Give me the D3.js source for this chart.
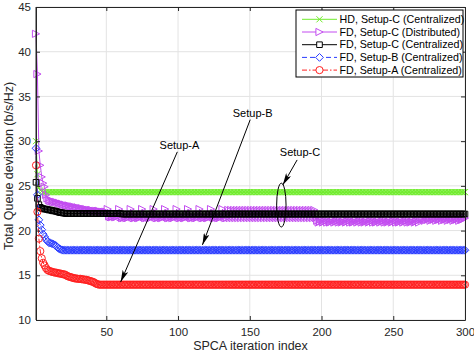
<!DOCTYPE html>
<html><head><meta charset="utf-8">
<script src="https://cdn.jsdelivr.net/npm/d3@7"></script>
<style>body{margin:0;background:#fff}svg{display:block;font-family:"Liberation Sans",Arial,Helvetica,sans-serif}</style>
</head><body><svg id="c" width="474" height="355"></svg>
<script>
const xTicks = [50,100,150,200,250,300];
const yTicks = [10,15,20,25,30,35,40,45];
const seriesNames = ["HD, Setup-C (Centralized)","FD, Setup-C (Distributed)","FD, Setup-C (Centralized)","FD, Setup-B (Centralized)","FD, Setup-A (Centralized)"];
const iterations = d3.range(1,301);

const hdC = [
30.0,26.3,24.8,24.5,24.4,24.3,24.3,24.3,24.3,24.3,
24.3,24.3,24.3,24.3,24.3,24.3,24.3,24.3,24.3,24.3,
24.3,24.3,24.3,24.3,24.3,24.3,24.3,24.3,24.3,24.3,
24.3,24.3,24.3,24.3,24.3,24.3,24.3,24.3,24.3,24.3,
24.3,24.3,24.3,24.3,24.3,24.3,24.3,24.3,24.3,24.3,
24.3,24.3,24.3,24.3,24.3,24.3,24.3,24.3,24.3,24.3,
24.3,24.3,24.3,24.3,24.3,24.3,24.3,24.3,24.3,24.3,
24.3,24.3,24.3,24.3,24.3,24.3,24.3,24.3,24.3,24.3,
24.3,24.3,24.3,24.3,24.3,24.3,24.3,24.3,24.3,24.3,
24.3,24.3,24.3,24.3,24.3,24.3,24.3,24.3,24.3,24.3,
24.3,24.3,24.3,24.3,24.3,24.3,24.3,24.3,24.3,24.3,
24.3,24.3,24.3,24.3,24.3,24.3,24.3,24.3,24.3,24.3,
24.3,24.3,24.3,24.3,24.3,24.3,24.3,24.3,24.3,24.3,
24.3,24.3,24.3,24.3,24.3,24.3,24.3,24.3,24.3,24.3,
24.3,24.3,24.3,24.3,24.3,24.3,24.3,24.3,24.3,24.3,
24.3,24.3,24.3,24.3,24.3,24.3,24.3,24.3,24.3,24.3,
24.3,24.3,24.3,24.3,24.3,24.3,24.3,24.3,24.3,24.3,
24.3,24.3,24.3,24.3,24.3,24.3,24.3,24.3,24.3,24.3,
24.3,24.3,24.3,24.3,24.3,24.3,24.3,24.3,24.3,24.3,
24.3,24.3,24.3,24.3,24.3,24.3,24.3,24.3,24.3,24.3,
24.3,24.3,24.3,24.3,24.3,24.3,24.3,24.3,24.3,24.3,
24.3,24.3,24.3,24.3,24.3,24.3,24.3,24.3,24.3,24.3,
24.3,24.3,24.3,24.3,24.3,24.3,24.3,24.3,24.3,24.3,
24.3,24.3,24.3,24.3,24.3,24.3,24.3,24.3,24.3,24.3,
24.3,24.3,24.3,24.3,24.3,24.3,24.3,24.3,24.3,24.3,
24.3,24.3,24.3,24.3,24.3,24.3,24.3,24.3,24.3,24.3,
24.3,24.3,24.3,24.3,24.3,24.3,24.3,24.3,24.3,24.3,
24.3,24.3,24.3,24.3,24.3,24.3,24.3,24.3,24.3,24.3,
24.3,24.3,24.3,24.3,24.3,24.3,24.3,24.3,24.3,24.3,
24.3,24.3,24.3,24.3,24.3,24.3,24.3,24.3,24.3,24.3];

const fdCDist = [
42.0,37.5,28.9,27.3,26.0,25.3,24.9,24.0,23.6,23.4,
23.3,23.3,23.2,23.2,23.2,23.1,23.1,23.0,23.0,22.9,
22.9,22.8,22.8,22.8,22.7,22.7,22.7,22.6,22.6,22.6,
22.5,22.5,22.5,22.4,22.4,22.4,22.3,22.3,22.3,22.3,
22.2,22.2,22.2,22.2,22.2,22.1,22.1,22.1,22.1,22.1,
22.4,21.6,21.5,21.5,21.6,21.5,21.5,21.6,
22.4,21.5,21.4,21.4,21.5,21.4,21.4,21.5,
22.4,21.5,21.4,21.4,21.5,21.4,21.4,21.5,
22.4,21.5,21.4,21.4,21.5,21.4,21.4,21.5,
22.4,21.5,21.4,21.4,21.5,21.4,21.4,21.5,
22.4,21.5,21.4,21.4,21.5,21.4,21.4,21.5,
22.4,21.5,21.4,21.4,21.5,21.4,21.4,21.5,
22.4,21.5,21.4,21.4,21.5,21.4,21.4,21.5,
22.4,21.5,21.4,21.4,21.5,21.4,21.4,21.5,
22.4,21.5,21.4,21.4,21.5,21.4,21.4,21.5,
22.4,21.5,21.4,21.4,
22.3,21.4,22.3,21.4,22.3,21.4,22.3,21.4,22.3,21.4,
22.3,21.4,22.3,21.4,22.3,21.4,22.3,21.4,22.3,21.4,
22.3,21.4,22.3,21.4,22.3,21.4,22.3,21.4,22.3,21.4,
22.3,21.4,22.3,21.4,22.3,21.4,22.3,21.4,22.3,21.4,
22.3,21.4,22.3,21.4,22.3,21.4,22.3,21.4,22.3,21.4,
22.3,21.4,22.3,21.4,22.3,21.4,22.3,21.4,22.3,21.4,
22.3,21.4,
21.1,20.9,21.0,21.2,20.9,21.0,21.1,20.9,
21.1,20.9,21.0,21.2,20.9,21.0,21.1,20.9,
21.1,20.9,21.0,21.2,20.9,21.0,21.1,20.9,
21.1,20.9,21.0,21.2,20.9,21.0,21.1,20.9,
21.1,20.9,21.0,21.2,20.9,21.0,21.1,20.9,
21.1,20.9,21.0,21.2,20.9,21.0,21.1,20.9,
21.1,20.9,21.0,21.2,20.9,21.0,21.1,20.9,
21.1,20.9,21.0,21.2,20.9,21.0,21.1,20.9,
21.1,20.9,21.0,21.2,20.9,21.0,21.1,20.9,
21.3,21.2,21.3,21.1,21.3,21.2,21.3,21.1,
21.3,21.2,21.3,21.1,21.3,21.2,21.3,21.1,
21.3,21.2,21.3,21.1,21.3,21.2,21.3,21.1,
21.3,21.2,21.3,21.1,21.3,21.2,21.3,21.4];

const fdCCent = [
25.4,23.6,22.9,22.6,22.5,22.45,22.4,22.4,22.35,22.3,
22.3,22.25,22.2,22.2,22.15,22.1,22.05,22.0,22.0,21.95,
21.95,21.9,21.9,21.9,21.9,21.9,21.9,21.9,21.9,21.9,
21.9,21.9,21.9,21.9,21.9,21.9,21.9,21.9,21.9,21.9,
21.9,21.9,21.9,21.9,21.9,21.9,21.9,21.9,21.9,21.9,
21.9,21.9,21.9,21.9,21.9,21.9,21.9,21.9,21.9,21.9,
21.85,21.85,21.85,21.85,21.85,21.85,21.85,21.85,21.85,21.85,
21.85,21.85,21.85,21.85,21.85,21.85,21.85,21.85,21.85,21.85,
21.85,21.85,21.85,21.85,21.85,21.85,21.85,21.85,21.85,21.85,
21.85,21.85,21.85,21.85,21.85,21.85,21.85,21.85,21.85,21.85,
21.85,21.85,21.85,21.85,21.85,21.85,21.85,21.85,21.85,21.85,
21.85,21.85,21.85,21.85,21.85,21.85,21.85,21.85,21.85,21.85,
21.85,21.85,21.85,21.85,21.85,21.85,21.85,21.85,21.85,21.85,
21.85,21.85,21.85,21.85,21.85,21.85,21.85,21.85,21.85,21.85,
21.85,21.85,21.85,21.85,21.85,21.85,21.85,21.85,21.85,21.85,
21.85,21.85,21.85,21.85,21.85,21.85,21.85,21.85,21.85,21.85,
21.85,21.85,21.85,21.85,21.85,21.85,21.85,21.85,21.85,21.85,
21.85,21.85,21.85,21.85,21.85,21.85,21.85,21.85,21.85,21.85,
21.85,21.85,21.85,21.85,21.85,21.85,21.85,21.85,21.85,21.85,
21.85,21.85,21.85,21.85,21.85,21.85,21.85,21.85,21.85,21.85,
21.85,21.85,21.85,21.85,21.85,21.85,21.85,21.85,21.85,21.85,
21.85,21.85,21.85,21.85,21.85,21.85,21.85,21.85,21.85,21.85,
21.85,21.85,21.85,21.85,21.85,21.85,21.85,21.85,21.85,21.85,
21.85,21.85,21.85,21.85,21.85,21.85,21.85,21.85,21.85,21.85,
21.85,21.85,21.85,21.85,21.85,21.85,21.85,21.85,21.85,21.85,
21.85,21.85,21.85,21.85,21.85,21.85,21.85,21.85,21.85,21.85,
21.85,21.85,21.85,21.85,21.85,21.85,21.85,21.85,21.85,21.85,
21.85,21.85,21.85,21.85,21.85,21.85,21.85,21.85,21.85,21.85,
21.85,21.85,21.85,21.85,21.85,21.85,21.85,21.85,21.85,21.85,
21.85,21.85,21.85,21.85,21.85,21.85,21.85,21.85,21.85,21.85];

const fdB = [
29.2,24.0,21.2,20.6,20.1,19.6,19.3,19.0,18.8,18.65,
18.6,18.55,18.5,18.4,18.3,18.1,18.0,17.9,17.85,17.8,
17.8,17.8,17.8,17.8,17.8,17.8,17.8,17.8,17.8,17.8,
17.8,17.8,17.8,17.8,17.8,17.8,17.8,17.8,17.8,17.8,
17.8,17.8,17.8,17.8,17.8,17.8,17.8,17.8,17.8,17.8,
17.8,17.8,17.8,17.8,17.8,17.8,17.8,17.8,17.8,17.8,
17.8,17.8,17.8,17.8,17.8,17.8,17.8,17.8,17.8,17.8,
17.8,17.8,17.8,17.8,17.8,17.8,17.8,17.8,17.8,17.8,
17.8,17.8,17.8,17.8,17.8,17.8,17.8,17.8,17.8,17.8,
17.8,17.8,17.8,17.8,17.8,17.8,17.8,17.8,17.8,17.8,
17.8,17.8,17.8,17.8,17.8,17.8,17.8,17.8,17.8,17.8,
17.8,17.8,17.8,17.8,17.8,17.8,17.8,17.8,17.8,17.8,
17.8,17.8,17.8,17.8,17.8,17.8,17.8,17.8,17.8,17.8,
17.8,17.8,17.8,17.8,17.8,17.8,17.8,17.8,17.8,17.8,
17.8,17.8,17.8,17.8,17.8,17.8,17.8,17.8,17.8,17.8,
17.8,17.8,17.8,17.8,17.8,17.8,17.8,17.8,17.8,17.8,
17.8,17.8,17.8,17.8,17.8,17.8,17.8,17.8,17.8,17.8,
17.8,17.8,17.8,17.8,17.8,17.8,17.8,17.8,17.8,17.8,
17.8,17.8,17.8,17.8,17.8,17.8,17.8,17.8,17.8,17.8,
17.8,17.8,17.8,17.8,17.8,17.8,17.8,17.8,17.8,17.8,
17.8,17.8,17.8,17.8,17.8,17.8,17.8,17.8,17.8,17.8,
17.8,17.8,17.8,17.8,17.8,17.8,17.8,17.8,17.8,17.8,
17.8,17.8,17.8,17.8,17.8,17.8,17.8,17.8,17.8,17.8,
17.8,17.8,17.8,17.8,17.8,17.8,17.8,17.8,17.8,17.8,
17.8,17.8,17.8,17.8,17.8,17.8,17.8,17.8,17.8,17.8,
17.8,17.8,17.8,17.8,17.8,17.8,17.8,17.8,17.8,17.8,
17.8,17.8,17.8,17.8,17.8,17.8,17.8,17.8,17.8,17.8,
17.8,17.8,17.8,17.8,17.8,17.8,17.8,17.8,17.8,17.8,
17.8,17.8,17.8,17.8,17.8,17.8,17.8,17.8,17.8,17.8,
17.8,17.8,17.8,17.8,17.8,17.8,17.8,17.8,17.8,17.8];

const fdA = [
27.3,22.1,19.1,17.7,16.9,16.4,16.1,15.8,15.6,15.5,
15.45,15.4,15.35,15.3,15.3,15.25,15.2,15.2,15.15,15.1,
15.1,15.0,14.9,14.85,14.8,14.75,14.7,14.65,14.65,14.6,
14.6,14.6,14.55,14.55,14.5,14.5,14.45,14.4,14.35,14.3,
14.25,14.15,14.05,14.0,13.95,13.95,13.95,13.95,13.95,13.95,
13.95,13.95,13.95,13.95,13.95,13.95,13.95,13.95,13.95,13.95,
13.95,13.95,13.95,13.95,13.95,13.95,13.95,13.95,13.95,13.95,
13.95,13.95,13.95,13.95,13.95,13.95,13.95,13.95,13.95,13.95,
13.95,13.95,13.95,13.95,13.95,13.95,13.95,13.95,13.95,13.95,
13.95,13.95,13.95,13.95,13.95,13.95,13.95,13.95,13.95,13.95,
13.95,13.95,13.95,13.95,13.95,13.95,13.95,13.95,13.95,13.95,
13.95,13.95,13.95,13.95,13.95,13.95,13.95,13.95,13.95,13.95,
13.95,13.95,13.95,13.95,13.95,13.95,13.95,13.95,13.95,13.95,
13.95,13.95,13.95,13.95,13.95,13.95,13.95,13.95,13.95,13.95,
13.95,13.95,13.95,13.95,13.95,13.95,13.95,13.95,13.95,13.95,
13.95,13.95,13.95,13.95,13.95,13.95,13.95,13.95,13.95,13.95,
13.95,13.95,13.95,13.95,13.95,13.95,13.95,13.95,13.95,13.95,
13.95,13.95,13.95,13.95,13.95,13.95,13.95,13.95,13.95,13.95,
13.95,13.95,13.95,13.95,13.95,13.95,13.95,13.95,13.95,13.95,
13.95,13.95,13.95,13.95,13.95,13.95,13.95,13.95,13.95,13.95,
13.95,13.95,13.95,13.95,13.95,13.95,13.95,13.95,13.95,13.95,
13.95,13.95,13.95,13.95,13.95,13.95,13.95,13.95,13.95,13.95,
13.95,13.95,13.95,13.95,13.95,13.95,13.95,13.95,13.95,13.95,
13.95,13.95,13.95,13.95,13.95,13.95,13.95,13.95,13.95,13.95,
13.95,13.95,13.95,13.95,13.95,13.95,13.95,13.95,13.95,13.95,
13.95,13.95,13.95,13.95,13.95,13.95,13.95,13.95,13.95,13.95,
13.95,13.95,13.95,13.95,13.95,13.95,13.95,13.95,13.95,13.95,
13.95,13.95,13.95,13.95,13.95,13.95,13.95,13.95,13.95,13.95,
13.95,13.95,13.95,13.95,13.95,13.95,13.95,13.95,13.95,13.95,
13.95,13.95,13.95,13.95,13.95,13.95,13.95,13.95,13.95,13.95];

// annotations in data coordinates
const annotations = [
  {label:"Setup-A", tx:101, ty:29.6, x1:99.5, y1:28.8, x2:60, y2:14.25},
  {label:"Setup-B", tx:152, ty:33.15, x1:150.3, y1:32.4, x2:117, y2:18.4},
  {label:"Setup-C", tx:185, ty:28.8, x1:183, y1:27.9, x2:173, y2:25.1}
];
const ellipseC = {x:172, y:22.85, ryVal:2.45};

const svg = d3.select("#c");
const x = d3.scaleLinear().domain([1,300]).range([36,465]);
const y = d3.scaleLinear().domain([10,45]).range([320,7]);
const L=36,R=465,T=7,B=320;
const axisColor="#262626";

svg.append("rect").attr("width",474).attr("height",355).attr("fill","#fff");

// grid
const grid = svg.append("g").attr("stroke","#e3e3e3").attr("stroke-width",1);
grid.selectAll(".gx").data(xTicks).join("line").attr("x1",d=>x(d)).attr("x2",d=>x(d)).attr("y1",T).attr("y2",B);
grid.selectAll(".gy").data(yTicks).join("line").attr("y1",d=>y(d)).attr("y2",d=>y(d)).attr("x1",L).attr("x2",R);

// series
const r=3.6;
const markers = {
  x: `M${-r*0.85},${-r*0.85}L${r*0.85},${r*0.85}M${-r*0.85},${r*0.85}L${r*0.85},${-r*0.85}`,
  tri: `M${-r},${-r}L${r},0L${-r},${r}Z`,
  sq: `M-2.8,-2.8H2.8V2.8H-2.8Z`,
  dia: `M0,${-r-0.3}L${r+0.3},0L0,${r+0.3}L${-r-0.3},0Z`,
  circ: `M${r},0A${r},${r} 0 1,1 ${-r},0A${r},${r} 0 1,1 ${r},0Z`
};
const series = [
  {name:seriesNames[0], values:hdC, color:"#70ec2c", dash:null, mk:"x"},
  {name:seriesNames[1], values:fdCDist, color:"#c34df0", dash:null, mk:"tri"},
  {name:seriesNames[2], values:fdCCent, color:"#000000", dash:null, mk:"sq"},
  {name:seriesNames[3], values:fdB, color:"#2a3cff", dash:"5,3", mk:"dia"},
  {name:seriesNames[4], values:fdA, color:"#ff2020", dash:"5,2,1.5,2", mk:"circ"}
];
const line = d3.line().x((d,i)=>x(iterations[i])).y(d=>y(d));
series.forEach(s=>{
  const g = svg.append("g");
  g.append("path").attr("d",line(s.values)).attr("fill","none").attr("stroke",s.color).attr("stroke-width",1).attr("stroke-dasharray",s.dash);
  g.selectAll("path.m").data(s.values).join("path").attr("class","m")
    .attr("d",markers[s.mk]).attr("transform",(d,i)=>`translate(${x(iterations[i])},${y(d)})`)
    .attr("fill","none").attr("stroke",s.color).attr("stroke-width",1);
});

// axes
const fontTick = 11.5;
const ax = svg.append("g").attr("transform",`translate(0,${B})`)
  .call(d3.axisBottom(x).tickValues(xTicks).tickSizeInner(-4).tickSizeOuter(0).tickPadding(8));
const ay = svg.append("g").attr("transform",`translate(${L},0)`)
  .call(d3.axisLeft(y).tickValues(yTicks).tickSizeInner(-4).tickSizeOuter(0).tickPadding(5));
const axT = svg.append("g").attr("transform",`translate(0,${T})`)
  .call(d3.axisTop(x).tickValues(xTicks).tickSizeInner(-4).tickSizeOuter(0).tickFormat(""));
const ayR = svg.append("g").attr("transform",`translate(${R},0)`)
  .call(d3.axisRight(y).tickValues(yTicks).tickSizeInner(-4).tickSizeOuter(0).tickFormat(""));
[ax,ay,axT,ayR].forEach(a=>{
  a.selectAll("path,line").attr("stroke",axisColor).attr("stroke-width",1);
  a.selectAll("text").attr("fill",axisColor).style("font-size",fontTick+"px").style("font-family","'Liberation Sans',Arial,sans-serif");
});
svg.append("line").attr("x1",L).attr("x2",L).attr("y1",T).attr("y2",B).attr("stroke",axisColor);

// axis labels
svg.append("text").attr("x",(L+R)/2).attr("y",350).attr("text-anchor","middle")
  .style("font-size","12.5px").attr("fill",axisColor).text("SPCA iteration index");
svg.append("text").attr("transform",`translate(13,166) rotate(-90)`).attr("text-anchor","middle")
  .style("font-size","12.5px").attr("fill",axisColor).text("Total Queue deviation (b/s/Hz)");

// annotations
const defs = svg.append("defs");
defs.append("marker").attr("id","arr").attr("viewBox","0 0 12 6").attr("refX",12).attr("refY",3)
  .attr("markerWidth",12).attr("markerHeight",6).attr("markerUnits","userSpaceOnUse").attr("orient","auto")
  .append("path").attr("d","M0,0L12,3L0,6L3,3Z").attr("fill","#000");
annotations.forEach(a=>{
  svg.append("line").attr("x1",x(a.x1)).attr("y1",y(a.y1)).attr("x2",x(a.x2)).attr("y2",y(a.y2))
    .attr("stroke","#000").attr("stroke-width",1).attr("marker-end","url(#arr)");
  svg.append("text").attr("x",x(a.tx)).attr("y",y(a.ty)).attr("dy","0.35em").attr("text-anchor","middle")
    .style("font-size","11px").attr("fill","#000").text(a.label);
});
svg.append("ellipse").attr("cx",x(ellipseC.x)).attr("cy",y(ellipseC.y)).attr("rx",4.7)
  .attr("ry",y(ellipseC.y-ellipseC.ryVal)-y(ellipseC.y)).attr("fill","none").attr("stroke","#000").attr("stroke-width",1);

// legend
const lg = svg.append("g").attr("transform","translate(296,10)");
lg.append("rect").attr("width",167).attr("height",67).attr("fill","#fff").attr("stroke","#000").attr("stroke-width",1);
series.forEach((s,i)=>{
  const yy = 9.3 + i*12.7;
  lg.append("line").attr("x1",6).attr("x2",41).attr("y1",yy).attr("y2",yy).attr("stroke",s.color).attr("stroke-width",1).attr("stroke-dasharray",s.dash);
  lg.append("path").attr("d",markers[s.mk]).attr("transform",`translate(23.5,${yy})`).attr("fill","#fff").attr("stroke",s.color).attr("stroke-width",1);
  lg.append("text").attr("x",43.5).attr("y",yy).attr("dy","0.35em").style("font-size","10.7px").attr("fill","#000").text(s.name);
});
</script></body></html>
